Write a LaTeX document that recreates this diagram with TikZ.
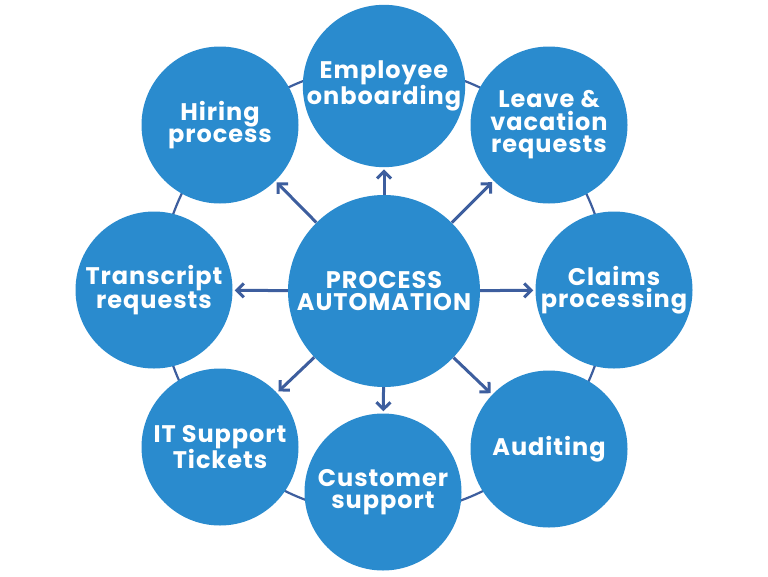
\documentclass[tikz,border=0pt]{standalone}
\usepackage{fontspec}
\setmainfont{Poppins}
\usepackage{xcolor}
\usetikzlibrary{arrows.meta,positioning}
\definecolor{bubble}{HTML}{2A8BCE}
\definecolor{link}{HTML}{3D5E9E}
\tikzset{%
	task/.style  = {circle, fill=bubble, minimum size=157pt, inner sep=0pt, text=white, align=center, font=\fontsize{24}{22.5}\selectfont\bfseries\addfontfeatures{LetterSpace=4}},
	hub/.style   = {task, minimum size=192pt},
	arrow/.style = {link, line width=3pt, -{Straight Barb[length=7pt,width=14pt,line width=3pt]}, shorten >=2pt},
	ring/.style  = {link, line width=2.2pt},
}
\begin{document}
\begin{tikzpicture}[x=1pt,y=-1pt]
	\useasboundingbox (0,0) rectangle (768,576);
	\coordinate (mid) at (384,290);
	\draw[ring] (mid) circle[radius=224];  % ring behind the circles
	
	\node[hub]  (pa)   at (384,291) {PROCESS\\AUTOMATION};
	\node[task] (emp)  at (384,86)  {Employee\\onboarding};
	\node[task] (lve)  at (549,125) {Leave \&\\vacation\\requests};
	\node[task] (clm)  at (614,290) {Claims\\processing};
	\node[task] (aud)  at (549,449) {Auditing};
	\node[task] (cus)  at (383,492) {Customer\\support};
	\node[task] (its)  at (220,447) {IT Support\\Tickets};
	\node[task] (trn)  at (154,290) {Transcript\\requests};
	\node[task] (hir)  at (220,125) {Hiring\\process};
	
	\foreach \t in {emp,lve,clm,aud,cus,its,trn,hir}
		\draw[arrow] (pa) -- (\t);
\end{tikzpicture}
\end{document}
